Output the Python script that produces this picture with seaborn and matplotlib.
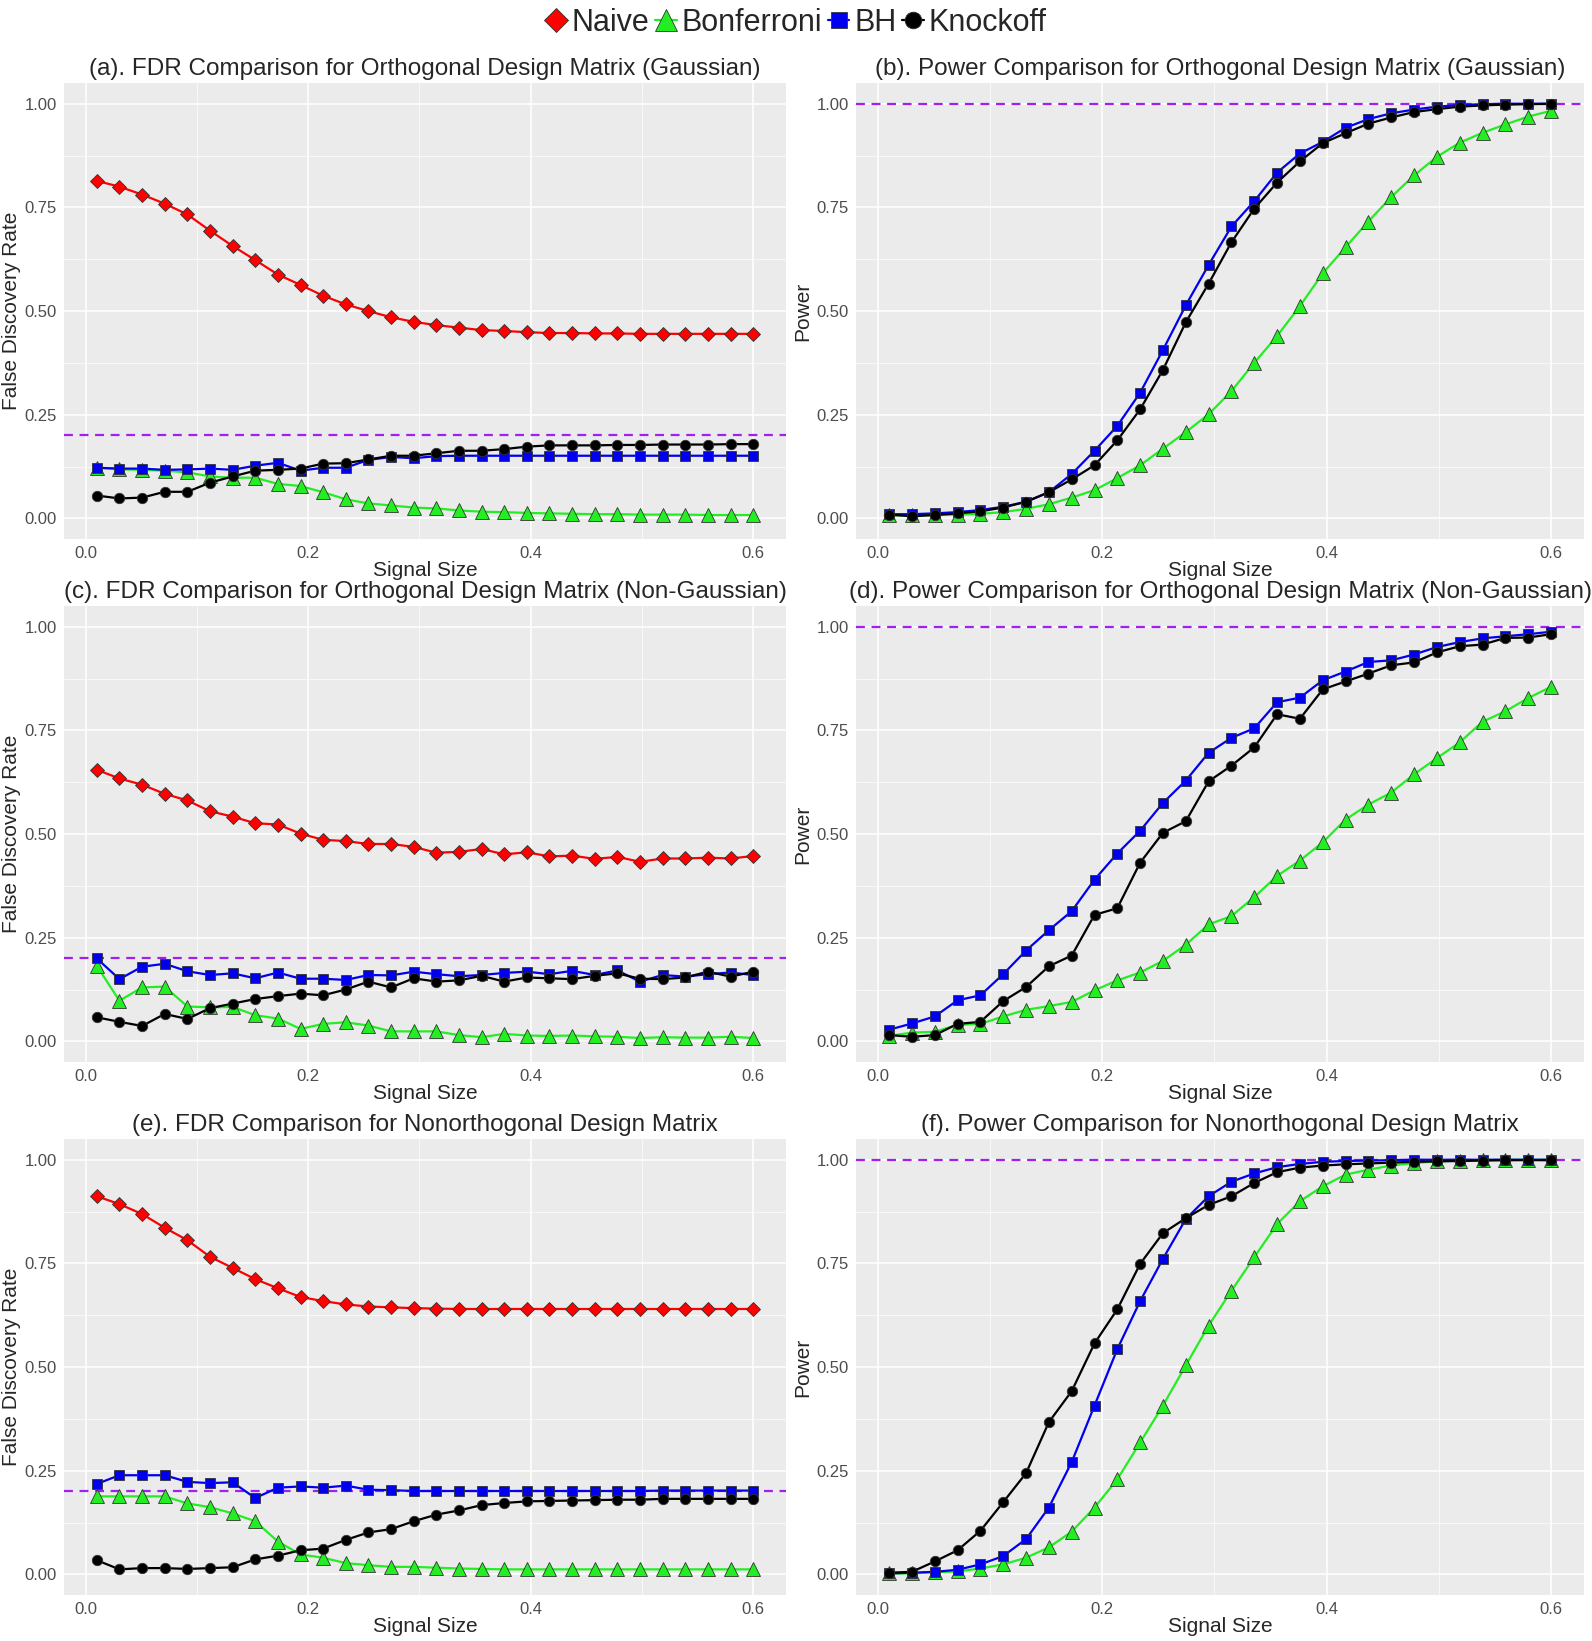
import numpy as np
import pandas as pd
import matplotlib
matplotlib.use("Agg")
import matplotlib.pyplot as plt
import seaborn as sns
from matplotlib.ticker import MultipleLocator

# signal sizes (30 equally spaced points)
signal = [0.0100, 0.0303, 0.0507, 0.0710, 0.0914, 0.1117, 0.1321, 0.1524, 0.1728, 0.1931,
          0.2134, 0.2338, 0.2541, 0.2745, 0.2948, 0.3152, 0.3355, 0.3559, 0.3762, 0.3966,
          0.4169, 0.4372, 0.4576, 0.4779, 0.4983, 0.5186, 0.5390, 0.5593, 0.5797, 0.6000]

methods = ["Naive", "Bonferroni", "BH", "Knockoff"]

# (a) FDR, orthogonal, Gaussian
a_naive = [0.814, 0.800, 0.781, 0.759, 0.733, 0.694, 0.657, 0.623, 0.588, 0.563,
           0.537, 0.516, 0.500, 0.485, 0.474, 0.466, 0.460, 0.454, 0.452, 0.449,
           0.447, 0.447, 0.446, 0.446, 0.445, 0.445, 0.445, 0.445, 0.445, 0.445]
a_bonf = [0.122, 0.118, 0.117, 0.115, 0.111, 0.101, 0.098, 0.098, 0.083, 0.078,
          0.063, 0.046, 0.036, 0.031, 0.026, 0.024, 0.019, 0.016, 0.015, 0.013,
          0.012, 0.011, 0.010, 0.010, 0.009, 0.009, 0.009, 0.008, 0.008, 0.008]
a_bh = [0.122, 0.120, 0.120, 0.117, 0.118, 0.120, 0.117, 0.127, 0.134, 0.115,
        0.122, 0.122, 0.141, 0.148, 0.145, 0.150, 0.151, 0.151, 0.151, 0.151,
        0.151, 0.151, 0.151, 0.151, 0.151, 0.151, 0.151, 0.151, 0.151, 0.151]
a_knock = [0.055, 0.048, 0.050, 0.064, 0.064, 0.086, 0.101, 0.115, 0.117, 0.120,
           0.132, 0.133, 0.142, 0.151, 0.151, 0.157, 0.163, 0.163, 0.167, 0.173,
           0.176, 0.176, 0.176, 0.177, 0.177, 0.178, 0.178, 0.178, 0.179, 0.179]

# (b) power, orthogonal, Gaussian
b_bonf = [0.007, 0.007, 0.008, 0.009, 0.011, 0.015, 0.023, 0.034, 0.050, 0.068,
          0.097, 0.128, 0.168, 0.208, 0.251, 0.307, 0.375, 0.440, 0.512, 0.591,
          0.654, 0.716, 0.775, 0.827, 0.872, 0.906, 0.930, 0.950, 0.969, 0.983]
b_bh = [0.010, 0.010, 0.012, 0.015, 0.020, 0.028, 0.040, 0.063, 0.107, 0.163,
        0.223, 0.303, 0.406, 0.514, 0.611, 0.704, 0.765, 0.834, 0.880, 0.908,
        0.942, 0.963, 0.977, 0.986, 0.993, 0.997, 0.999, 1.000, 1.000, 1.000]
b_knock = [0.009, 0.005, 0.008, 0.012, 0.017, 0.026, 0.040, 0.063, 0.094, 0.128,
           0.188, 0.263, 0.358, 0.473, 0.566, 0.666, 0.747, 0.810, 0.861, 0.905,
           0.929, 0.952, 0.967, 0.980, 0.987, 0.993, 0.996, 0.998, 0.999, 1.000]

# (c) FDR, orthogonal, non-Gaussian
c_naive = [0.655, 0.634, 0.619, 0.597, 0.581, 0.555, 0.542, 0.526, 0.523, 0.501,
           0.486, 0.483, 0.476, 0.476, 0.469, 0.455, 0.457, 0.464, 0.451, 0.456,
           0.446, 0.448, 0.440, 0.445, 0.433, 0.441, 0.441, 0.443, 0.441, 0.447]
c_bonf = [0.182, 0.098, 0.130, 0.132, 0.084, 0.082, 0.083, 0.063, 0.055, 0.030,
          0.042, 0.046, 0.038, 0.024, 0.024, 0.024, 0.015, 0.010, 0.018, 0.014,
          0.013, 0.014, 0.012, 0.011, 0.008, 0.010, 0.009, 0.009, 0.011, 0.008]
c_bh = [0.200, 0.150, 0.180, 0.187, 0.169, 0.160, 0.164, 0.152, 0.166, 0.151,
        0.151, 0.148, 0.160, 0.159, 0.168, 0.162, 0.157, 0.160, 0.165, 0.168,
        0.162, 0.170, 0.160, 0.171, 0.144, 0.160, 0.156, 0.162, 0.166, 0.160]
c_knock = [0.058, 0.047, 0.037, 0.066, 0.054, 0.080, 0.091, 0.102, 0.109, 0.115,
           0.111, 0.125, 0.144, 0.130, 0.152, 0.144, 0.147, 0.158, 0.144, 0.154,
           0.152, 0.150, 0.158, 0.164, 0.151, 0.150, 0.154, 0.168, 0.156, 0.168]

# (d) power, orthogonal, non-Gaussian
d_bonf = [0.013, 0.021, 0.023, 0.040, 0.042, 0.060, 0.076, 0.085, 0.095, 0.123,
          0.147, 0.166, 0.194, 0.233, 0.282, 0.302, 0.348, 0.399, 0.436, 0.480,
          0.535, 0.571, 0.600, 0.644, 0.683, 0.721, 0.771, 0.796, 0.828, 0.855]
d_bh = [0.028, 0.043, 0.060, 0.099, 0.111, 0.162, 0.219, 0.268, 0.314, 0.390,
        0.453, 0.508, 0.575, 0.629, 0.696, 0.732, 0.755, 0.818, 0.829, 0.871,
        0.892, 0.915, 0.919, 0.933, 0.951, 0.963, 0.972, 0.977, 0.982, 0.988]
d_knock = [0.015, 0.011, 0.015, 0.042, 0.047, 0.097, 0.131, 0.181, 0.207, 0.305,
           0.321, 0.431, 0.503, 0.531, 0.627, 0.665, 0.709, 0.789, 0.778, 0.849,
           0.868, 0.887, 0.907, 0.914, 0.938, 0.953, 0.957, 0.973, 0.974, 0.982]

# (e) FDR, nonorthogonal
e_naive = [0.912, 0.893, 0.869, 0.836, 0.806, 0.766, 0.739, 0.712, 0.690, 0.669,
           0.659, 0.651, 0.646, 0.644, 0.642, 0.641, 0.640, 0.640, 0.640, 0.640,
           0.640, 0.640, 0.640, 0.640, 0.640, 0.640, 0.640, 0.640, 0.640, 0.640]
e_bonf = [0.188, 0.188, 0.188, 0.188, 0.171, 0.162, 0.147, 0.128, 0.079, 0.048,
          0.040, 0.027, 0.022, 0.018, 0.018, 0.016, 0.014, 0.013, 0.012, 0.012,
          0.012, 0.012, 0.012, 0.012, 0.012, 0.012, 0.012, 0.012, 0.012, 0.012]
e_bh = [0.218, 0.239, 0.239, 0.239, 0.223, 0.220, 0.222, 0.184, 0.209, 0.212,
        0.209, 0.214, 0.204, 0.203, 0.201, 0.201, 0.201, 0.201, 0.201, 0.201,
        0.201, 0.201, 0.201, 0.201, 0.201, 0.202, 0.202, 0.202, 0.202, 0.202]
e_knock = [0.034, 0.012, 0.015, 0.015, 0.013, 0.015, 0.017, 0.036, 0.045, 0.058,
           0.062, 0.083, 0.101, 0.109, 0.128, 0.144, 0.154, 0.167, 0.172, 0.176,
           0.177, 0.178, 0.179, 0.180, 0.180, 0.182, 0.182, 0.182, 0.182, 0.182]

# (f) power, nonorthogonal
f_bonf = [0.002, 0.002, 0.005, 0.007, 0.014, 0.024, 0.040, 0.065, 0.103, 0.161,
          0.229, 0.318, 0.407, 0.504, 0.600, 0.684, 0.765, 0.845, 0.900, 0.936,
          0.964, 0.976, 0.986, 0.992, 0.996, 0.998, 0.999, 1.000, 1.000, 1.000]
f_bh = [0.002, 0.004, 0.006, 0.011, 0.024, 0.044, 0.085, 0.161, 0.271, 0.407,
        0.543, 0.659, 0.761, 0.857, 0.912, 0.947, 0.967, 0.982, 0.990, 0.995,
        0.997, 0.998, 0.999, 1.000, 1.000, 1.000, 1.000, 1.000, 1.000, 1.000]
f_knock = [0.004, 0.006, 0.031, 0.058, 0.105, 0.174, 0.244, 0.367, 0.442, 0.557,
           0.639, 0.749, 0.823, 0.859, 0.891, 0.912, 0.944, 0.970, 0.981, 0.986,
           0.989, 0.991, 0.993, 0.995, 0.996, 0.997, 0.998, 0.999, 0.999, 0.999]

titles = [
    "(a). FDR Comparison for Orthogonal Design Matrix (Gaussian)",
    "(b). Power Comparison for Orthogonal Design Matrix (Gaussian)",
    "(c). FDR Comparison for Orthogonal Design Matrix (Non-Gaussian)",
    "(d). Power Comparison for Orthogonal Design Matrix (Non-Gaussian)",
    "(e). FDR Comparison for Nonorthogonal Design Matrix",
    "(f). Power Comparison for Nonorthogonal Design Matrix",
]

palette = {"Naive": "#FF0000", "Bonferroni": "#22EE22", "BH": "#0000EE", "Knockoff": "#000000"}
markers = {"Naive": "D", "Bonferroni": "^", "BH": "s", "Knockoff": "o"}


def make_frame(series):
    rows = []
    for name, vals in series.items():
        for s, v in zip(signal, vals):
            rows.append({"signal": s, "value": v, "method": name})
    return pd.DataFrame(rows)


def main():
    sns.set_theme(style="darkgrid")
    plt.rcParams["font.family"] = ["Liberation Sans", "DejaVu Sans"]
    plt.rcParams["axes.facecolor"] = "#EBEBEB"
    plt.rcParams["grid.color"] = "white"

    panels = [
        {"Naive": a_naive, "Bonferroni": a_bonf, "BH": a_bh, "Knockoff": a_knock},
        {"Bonferroni": b_bonf, "BH": b_bh, "Knockoff": b_knock},
        {"Naive": c_naive, "Bonferroni": c_bonf, "BH": c_bh, "Knockoff": c_knock},
        {"Bonferroni": d_bonf, "BH": d_bh, "Knockoff": d_knock},
        {"Naive": e_naive, "Bonferroni": e_bonf, "BH": e_bh, "Knockoff": e_knock},
        {"Bonferroni": f_bonf, "BH": f_bh, "Knockoff": f_knock},
    ]

    fig = plt.figure(figsize=(15.92, 16.41), dpi=100)
    lefts = [0.0402, 0.5377]
    widths = [0.4535, 0.4573]
    bottoms = [0.6715, 0.3528, 0.0280]
    height = 0.2779

    handles, labels = None, None
    for i, series in enumerate(panels):
        row, col = i // 2, i % 2
        ax = fig.add_axes([lefts[col], bottoms[row], widths[col], height])
        df = make_frame(series)
        order = [m for m in methods if m in series]
        sns.lineplot(data=df, x="signal", y="value", hue="method", style="method",
                     hue_order=order, style_order=order, palette=palette,
                     markers=markers, dashes=False, markersize=7.5, linewidth=1.6,
                     markeredgecolor="#333333", markeredgewidth=0.6,
                     legend=(i == 0), ax=ax, zorder=3)
        # triangles look small next to the other shapes, bump them up
        for ln in ax.lines:
            if ln.get_marker() == "^":
                ln.set_markersize(9.5)
        if i == 0:
            handles, labels = ax.get_legend_handles_labels()
            for h in handles:
                if h.get_marker() == "^":
                    h.set_markersize(9.5)
            ax.get_legend().remove()

        fdr = (col == 0)
        ax.axhline(0.2 if fdr else 1.0, color="#A020F0", linestyle=(0, (4, 3)),
                   linewidth=1.6, zorder=2)

        ax.set_xlim(-0.0195, 0.6295)
        ax.set_ylim(-0.05, 1.05)
        ax.xaxis.set_major_locator(MultipleLocator(0.2))
        ax.xaxis.set_minor_locator(MultipleLocator(0.1))
        ax.yaxis.set_major_locator(MultipleLocator(0.25))
        ax.yaxis.set_minor_locator(MultipleLocator(0.125))
        ax.set_xticks([0.0, 0.2, 0.4, 0.6])
        ax.set_xticklabels(["0.0", "0.2", "0.4", "0.6"])
        ax.set_yticks([0.0, 0.25, 0.5, 0.75, 1.0])
        ax.set_yticklabels(["0.00", "0.25", "0.50", "0.75", "1.00"])
        ax.grid(which="major", color="white", linewidth=1.1)
        ax.grid(which="minor", color="white", linewidth=0.5)
        ax.tick_params(which="major", length=3, width=0.8, color="#333333",
                       labelsize=12, labelcolor="#4D4D4D", pad=2)
        ax.tick_params(which="minor", length=0)
        for sp in ax.spines.values():
            sp.set_visible(False)

        ax.set_title(titles[i], fontsize=17.5, pad=6)
        ax.set_xlabel("Signal Size", fontsize=15, labelpad=0)
        ax.set_ylabel("False Discovery Rate" if fdr else "Power", fontsize=15, labelpad=3)

    fig.legend(handles, labels, loc="upper center", bbox_to_anchor=(0.5, 1.012),
               ncol=4, frameon=False, fontsize=22, handlelength=0.7,
               handletextpad=0.15, columnspacing=0.2, markerscale=1.6)

    fig.savefig("out.png", dpi=100)


if __name__ == "__main__":
    main()
